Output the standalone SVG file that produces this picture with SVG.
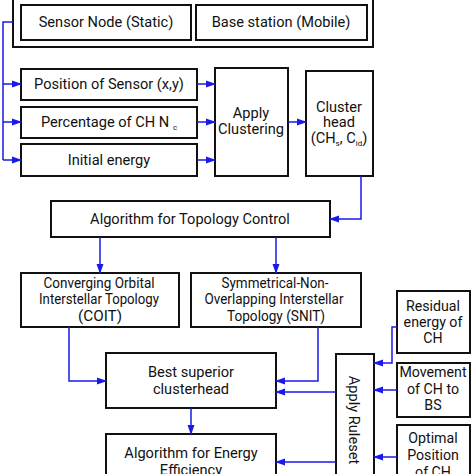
<svg xmlns="http://www.w3.org/2000/svg" width="474" height="474" viewBox="0 0 474 474">
<defs>
<marker id="ah" markerWidth="10" markerHeight="8" refX="9" refY="4" orient="auto" markerUnits="userSpaceOnUse">
<path d="M0,0.5 L10,4 L0,7.5 Z" fill="#1a1ae6"/>
</marker>
<style>
.b{fill:#fff;stroke:#111;stroke-width:2}
.t{font-family:Roboto,"Liberation Sans",sans-serif;font-size:14.6px;fill:#111;text-anchor:middle}
.s{font-size:14.2px}
.n{font-size:14.4px}
.c{fill:none;stroke:#1a1ae6;stroke-width:1.5}
.a{marker-end:url(#ah)}
</style>
</defs>
<rect width="474" height="474" fill="#fff"/>
<g id="outer"><rect class="b" x="13" y="-5" width="360" height="52"/></g>
<g id="sensor"><rect class="b" x="21" y="5" width="170" height="35"/><text class="t" x="106" y="27">Sensor Node  (Static)</text></g>
<g id="base"><rect class="b" x="196" y="5" width="171" height="35"/><text class="t" x="281" y="27">Base station  (Mobile)</text></g>
<g id="position"><rect class="b" x="21" y="69" width="176" height="31"/><text class="t" x="109" y="89">Position of Sensor  (x,y)</text></g>
<g id="percentage"><rect class="b" x="21" y="107" width="176" height="31"/><text class="t" x="109" y="127">Percentage of CH N <tspan font-size="8" dy="3">c</tspan></text></g>
<g id="initial"><rect class="b" x="21" y="144" width="176" height="32"/><text class="t" x="109" y="165">Initial energy</text></g>
<g id="clustering"><rect class="b" x="215" y="68" width="73" height="108"/><text class="t" x="251" y="118">Apply</text><text class="t" x="251" y="134">Clustering</text></g>
<g id="clusterhead"><rect class="b" x="306" y="71" width="67" height="105"/><text class="t" x="339" y="112">Cluster</text><text class="t" x="339" y="127">head</text><text class="t" x="339" y="143">(CH<tspan font-size="8" dy="3">s</tspan><tspan dy="-3">, C</tspan><tspan font-size="8" dy="3">id</tspan><tspan dy="-3">)</tspan></text></g>
<g id="topology"><rect class="b" x="51" y="201" width="279" height="36"/><text class="t" x="190" y="224">Algorithm for Topology Control</text></g>
<g id="coit"><rect class="b" x="21" y="273" width="158" height="54"/><text class="t n" x="99" y="288" textLength="111" lengthAdjust="spacingAndGlyphs">Converging Orbital</text><text class="t n" x="99" y="304" textLength="120" lengthAdjust="spacingAndGlyphs">Interstellar Topology</text><text class="t n" x="100" y="321" textLength="44" lengthAdjust="spacingAndGlyphs">(COIT)</text></g>
<g id="snit"><rect class="b" x="191" y="273" width="170" height="54"/><text class="t n" x="275" y="288" textLength="107" lengthAdjust="spacingAndGlyphs">Symmetrical-Non-</text><text class="t n" x="274" y="304" textLength="139" lengthAdjust="spacingAndGlyphs">Overlapping Interstellar</text><text class="t n" x="276" y="321" textLength="98" lengthAdjust="spacingAndGlyphs">Topology (SNIT)</text></g>
<g id="best"><rect class="b" x="106" y="353" width="170" height="55"/><text class="t" x="191" y="377">Best superior</text><text class="t" x="191" y="394">clusterhead</text></g>
<g id="energyalg"><rect class="b" x="106" y="434" width="170" height="50"/><text class="t" x="191" y="458">Algorithm for Energy</text><text class="t" x="191" y="475">Efficiency</text></g>
<g id="ruleset"><rect class="b" x="336" y="354" width="38" height="130"/><text class="t" transform="translate(349,420) rotate(90)">Apply Ruleset</text></g>
<g id="residual"><rect class="b" x="397" y="291" width="73" height="62"/><text class="t s" x="433" y="311">Residual</text><text class="t s" x="433" y="327">energy of</text><text class="t s" x="433" y="343">CH</text></g>
<g id="movement"><rect class="b" x="397" y="363" width="73" height="54"/><text class="t s" x="433" y="377">Movement</text><text class="t s" x="433" y="394">of CH to</text><text class="t s" x="433" y="410">BS</text></g>
<g id="optimal"><rect class="b" x="397" y="425" width="73" height="60"/><text class="t s" x="433" y="443">Optimal</text><text class="t s" x="433" y="460">Position</text><text class="t s" x="433" y="477">of CH</text></g>
<g id="connectors">
<path class="c" d="M13,22 H3 V160"/>
<path class="c a" d="M3,84 H21"/>
<path class="c a" d="M3,122 H21"/>
<path class="c a" d="M3,160 H21"/>
<path class="c a" d="M197,84 H215"/>
<path class="c a" d="M197,122 H215"/>
<path class="c a" d="M197,160 H215"/>
<path class="c a" d="M288,122 H306"/>
<path class="c a" d="M361,176 V219 H330"/>
<path class="c a" d="M100,237 V273"/>
<path class="c a" d="M276,237 V273"/>
<path class="c a" d="M69,327 V381 H106"/>
<path class="c a" d="M318,327 V381 H276"/>
<path class="c a" d="M336,392 H276"/>
<path class="c a" d="M191,408 V434"/>
<path class="c a" d="M336,462 H276"/>
<path class="c a" d="M397,327 H392 V363 H374"/>
<path class="c a" d="M397,390 H374"/>
<path class="c a" d="M397,457 H374"/>
</g>
</svg>
